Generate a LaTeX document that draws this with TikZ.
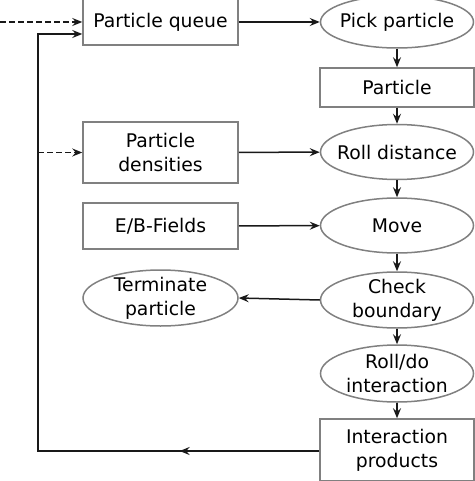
\documentclass[tikz,border=0pt]{standalone}
\usepackage{fontspec}
\setmainfont{DejaVu Sans}
\usetikzlibrary{arrows.meta,positioning,shapes.geometric,decorations.markings}

\begin{document}
\begin{tikzpicture}[x=1pt,y=-1pt,line width=1.5pt,
        every node/.style={font=\fontsize{18.8}{24}\selectfont,align=center}]
        \tikzset{
            boxnode/.style={
                    draw=gray,
                    rectangle,
                    minimum width=155pt,
                    inner sep=2pt
                },
            ovalnode/.style={
                    draw=gray,
                    ellipse,
                    minimum width=153pt,
                    inner xsep=-8pt,
                    inner ysep=-3pt
                },
            tip/.tip={Stealth[length=10pt,width=8pt,inset=3.5pt]},
            flow/.style={
                    draw=black!90,
                    -tip
                }
        }
        \useasboundingbox (0,0) rectangle (474,481);
        % left column
        \node[boxnode,minimum height=46pt] (queue) at (160.5,22) {Particle queue};
        \node[boxnode,minimum height=61pt] (densities) at (160.5,152.5) {Particle\\densities};
        \node[boxnode,minimum height=46pt] (fields) at (160.5,226) {E/B-Fields};
        \node[ovalnode,minimum width=155pt,minimum height=56pt] (terminate) at (160.5,298) {Terminate\\particle};
        % right column
        \node[ovalnode,minimum height=52pt] (pick) at (397,22) {Pick particle};
        \node[boxnode,minimum width=154pt,minimum height=39pt] (particle) at (397,87.5) {Particle};
        \node[ovalnode,minimum height=55pt] (roll) at (397,152) {Roll distance};
        \node[ovalnode,minimum height=55pt] (move) at (397,225.5) {Move};
        \node[ovalnode,minimum height=56pt] (check) at (397,300) {Check\\boundary};
        \node[ovalnode,minimum height=57pt] (rolldo) at (397,373.5) {Roll/do\\interaction};
        \node[boxnode,minimum width=154pt,minimum height=62pt] (products) at (397,450) {Interaction\\products};
        \coordinate (source) at (0,22);
        \coordinate (corner) at (38,451);
        \coordinate (branch) at (38,152.5);
        % main chain
        \draw[flow] (queue) -- (pick);
        \draw[flow] (pick) -- (particle);
        \draw[flow] (particle) -- (roll);
        \draw[flow] (roll) -- (move);
        \draw[flow] (move) -- (check);
        \draw[flow] (check) -- (rolldo);
        \draw[flow] (rolldo) -- (products);
        \draw[flow] (densities) -- (roll);
        \draw[flow] (fields) -- (move);
        \draw[flow] (check.west) -- (terminate.east);
        % loop back
        \draw[flow,decoration={markings,mark=at position 0.188 with {\arrow{tip}}},postaction={decorate}]
            (products.west |- corner) -- (corner) |- ([yshift=-12pt]queue.west);
        % dashed inputs
        \draw[flow,dash pattern=on 6pt off 3pt] (source) -- (queue.west);
        \draw[flow,dash pattern=on 6pt off 3pt] (branch) -- (densities.west);
\end{tikzpicture}
\end{document}
